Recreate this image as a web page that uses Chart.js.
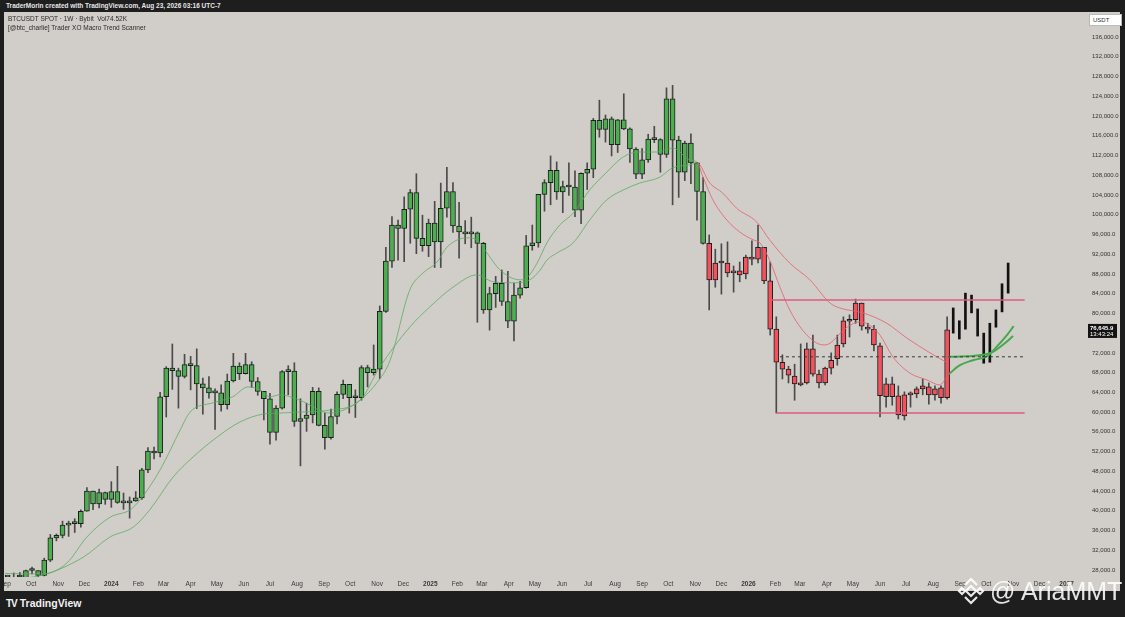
<!DOCTYPE html>
<html>
<head>
<meta charset="utf-8">
<script src="https://cdn.jsdelivr.net/npm/chart.js@4.4.1/dist/chart.umd.min.js"></script>
<style>
  html, body { margin: 0; padding: 0; width: 1125px; height: 617px; overflow: hidden; background: #1e1e1e; font-family: "Liberation Sans", Arial, sans-serif; }
  #top { position: absolute; left: 6px; top: 1px; color: #e6e6e6; font-size: 6.5px; font-weight: bold; line-height: 10px; }
  #pane { position: absolute; left: 4px; top: 12px; width: 1116px; height: 579px; background: #d1cec9; }
  #legend { position: absolute; left: 8px; top: 14px; color: #2a2a2a; font-size: 6.5px; line-height: 9px; }
  #unit { position: absolute; left: 1089px; top: 14px; width: 28px; height: 10px; background: #fff; border: 1px solid #bbb; font-size: 6px; line-height: 10px; color: #333; padding-left: 3px; box-sizing: content-box; }
  #tv { position: absolute; left: 6px; top: 596px; color: #f2f2f2; font-size: 10.5px; font-weight: bold; line-height: 14px; }
  #tv b { font-size: 10px; margin-right: 3px; letter-spacing: -1px; }
  #wm { position: absolute; left: 956px; top: 576px; color: rgba(255,255,255,0.88); font-size: 25px; line-height: 30px; white-space: nowrap; }
  #wm svg { vertical-align: -6px; margin-right: 4px; }
</style>
</head>
<body>
<div id="top">TraderMorin created with TradingView.com, Aug 23, 2026 03:16 UTC-7</div>
<div id="pane"><canvas id="btc" width="1116" height="579"></canvas></div>
<div id="legend">BTCUSDT SPOT · 1W · Bybit&nbsp; Vol74.52K<br>[@btc_charlie] Trader XO Macro Trend Scanner</div>
<div id="unit">USDT</div>
<div id="tv"><b>TV</b>TradingView</div>
<div id="wm"><svg width="30" height="30" viewBox="0 0 30 30"><g fill="none" stroke="rgba(255,255,255,0.9)" stroke-width="2.2"><path d="M15 10 L20 15 L15 20 L10 15 Z"/><path d="M9 9 L15 3 L21 9"/><path d="M9 21 L15 27 L21 21"/><path d="M3 15 L6 12 L9 15 L6 18 Z"/><path d="M21 15 L24 12 L27 15 L24 18 Z"/></g></svg>@ AriaMMT</div>

<script>
// Weekly candles, Monday 2023-09-04 = week 0. Prices in thousands of USDT.
var opens = [25.8,25.8,26.5,26.3,27.9,27.9,26.9,30.0,34.5,35.0, 37.1,37.4,37.4,39.9,44.0,41.4,43.7,
  42.3,43.9,41.7,41.6,42.0,42.6,48.3,52.1,51.7,63.1, 68.9,68.4,67.2,69.6,69.4,65.7,64.9,63.9,63.9,61.5,
  66.3,69.3,67.8,69.6,66.2,64.2,62.7,55.9,60.8,68.2, 68.3,58.1,58.7,59.4,64.2,57.3,54.8,59.1,63.6,65.6,
  62.9,62.9,69.0,68.0,68.7,80.4,90.6,97.9,97.2,101.1, 104.5,95.2,93.7,
  98.3,94.5,101.3,104.7,97.7,96.5,96.1,96.3,94.2,80.7, 84.0,86.1,82.4,78.4,83.7,85.2,93.7,94.3,104.1,106.5,
  109.0,104.6,105.7,105.6,100.9,108.4,109.2,119.1,117.3,119.4, 114.2,119.2,117.4,113.3,108.2,111.1,115.3,115.2,112.2,123.5,
  115.1,108.6,114.5,110.5,104.7,94.2,86.8,90.2,90.2,88.2, 88.6,88.0,91.4,91.0,93.4,86.6,76.8,70.1,68.7,67.3,
  65.7,65.9,72.8,67.7,65.9,68.9,70.8,73.8,78.5,78.7, 82.1,77.2,76.8,73.4,63.1,65.7,63.3,59.2,63.5,63.7,
  64.7,65.1,63.5,64.9,62.9];
var highs = [26.4,27.4,27.5,28.0,28.6,27.9,30.4,35.2,35.3,37.9, 37.9,38.4,40.2,44.7,44.0,44.4,43.8,
  45.9,49.0,43.6,42.8,43.9,48.6,52.8,52.9,64.0,69.2, 73.8,68.9,71.7,71.3,72.8,66.9,67.2,64.7,65.5,67.7,
  71.9,70.0,71.9,70.2,67.0,64.2,63.8,61.3,68.4,69.4, 70.0,62.7,61.8,65.0,64.9,59.8,60.6,64.1,66.5,65.6,
  64.5,69.4,69.5,73.6,81.5,93.4,99.6,98.9,103.6,105.1, 108.3,99.9,99.1,
  102.7,106.4,109.6,106.5,102.5,98.8,99.5,96.5,94.4,85.3, 87.5,88.8,88.5,86.1,86.5,95.8,97.9,104.1,107.1,111.9,
  110.7,106.8,110.5,108.9,108.5,110.5,119.5,123.2,120.2,119.8, 119.3,124.5,117.6,113.6,113.4,116.3,117.9,115.4,125.7,126.2,
  115.9,114.9,116.4,110.6,107.5,95.9,93.0,94.1,94.5,89.6, 90.4,91.8,94.7,97.9,93.4,90.4,79.3,71.6,69.3,69.7,
  73.8,74.0,75.6,68.5,69.1,72.0,75.6,79.3,79.7,82.9, 82.1,78.0,77.6,74.0,66.9,67.1,65.3,64.1,64.1,65.1,
  66.7,65.9,65.3,65.3,79.3];
var lows = [24.9,24.9,26.0,26.0,27.2,26.5,26.8,29.7,33.9,34.5, 34.8,35.6,36.7,39.9,40.2,40.6,41.3,
  40.7,41.5,40.3,38.5,41.9,42.3,47.7,50.5,50.9,59.0, 64.6,60.8,66.9,64.5,60.7,59.6,62.8,56.5,60.2,60.6,
  66.1,66.6,67.7,65.0,63.4,58.4,53.5,54.3,60.6,63.5, 57.1,49.1,56.1,57.8,57.2,52.5,54.5,57.6,62.7,59.8,
  58.9,62.4,65.1,67.5,66.8,80.2,89.3,90.8,90.5,94.2, 92.1,92.6,91.5,
  89.3,89.3,99.5,96.4,91.2,94.1,93.3,78.2,80.0,76.6, 81.2,81.6,77.1,74.4,83.1,85.1,92.8,93.4,100.7,102.0,
  103.1,100.4,103.9,99.6,98.2,105.1,107.5,115.7,114.7,111.9, 112.6,117.2,110.6,107.3,107.3,110.6,114.6,108.6,111.6,102.0,
  103.5,106.9,106.3,98.9,94.0,80.7,85.3,83.9,87.4,84.3, 86.4,87.0,89.8,90.2,86.0,75.6,59.8,66.7,65.9,62.4,
  65.3,65.7,67.3,64.9,65.5,67.7,69.5,73.2,75.2,78.0, 76.6,76.0,72.4,59.0,61.0,61.4,58.6,58.4,61.0,62.9,
  63.5,61.6,62.4,61.8,62.6];
var closes = [25.8,26.5,26.3,27.9,27.9,26.9,30.0,34.5,35.0,37.1, 37.4,37.4,39.9,44.0,41.4,43.7,42.3,
  43.9,41.7,41.6,42.0,42.6,48.3,52.1,51.7,63.1,68.9, 68.4,67.2,69.6,69.4,65.7,64.9,63.9,63.9,61.5,66.3,
  69.3,67.8,69.6,66.2,64.2,62.7,55.9,60.8,68.2,68.3, 58.1,58.7,59.4,64.2,57.3,54.8,59.1,63.6,65.6,62.9,
  62.9,69.0,68.0,68.7,80.4,90.6,97.9,97.2,101.1,104.5, 95.2,93.7,98.3,
  94.5,101.3,104.7,97.7,96.5,96.1,96.3,94.2,80.7,84.0, 86.1,82.4,78.4,83.7,85.2,93.7,94.3,104.1,106.5,109.0,
  104.6,105.7,105.6,100.9,108.4,109.2,119.1,117.3,119.4,114.2, 119.2,117.4,113.3,108.2,111.1,115.3,115.2,112.2,123.5,115.1,
  108.6,114.5,110.5,104.7,94.2,86.8,90.2,90.3,88.2,88.4, 87.8,91.4,91.0,93.4,86.6,76.8,70.1,68.7,67.5,65.7,
  65.5,72.8,67.7,65.9,68.9,70.5,73.6,78.5,78.4,82.1, 77.4,76.8,73.6,63.3,65.7,63.1,59.4,63.5,63.7,64.7,
  65.3,63.5,64.7,62.9,76.6459];
var redFromWeek = 115;   // scanner paints candles red from here on

// Trend scanner lines: fast and slow
var fastWeeks = [-1,5.8,9.7,13.0,16.8,20.1,21.7,25.0,28.3,29.9,33.7,36.9,39.4,41.4,43.0,44.6,47.9,52.8,56.6,60.5,
  62.7,65.9,68.1,70.4,72.0,75.3,76.9,78.6,80.7,84.0,85.1,86.8,88.4,90.5,92.7,95.4,98.2,100.9,103.6,106.4,
  109.0,111.8,113.0,114.0,115.6,117.9,120.0,122.2,123.3,124.9,126.6,128.2,130.3,132.6,134.0,137.6,139.7,141.3,143.0,145.1,
  147.9,150.7,152.8,154.0];
var fastVals = [27.3,27.2,29.4,34.7,38.7,40.2,42.2,48.3,56.4,60.0,61.9,63.1,65.1,64.5,63.1,63.5,62.4,59.8,61.4,65.9,
  70.5,84.7,88.2,90.4,93.4,95.3,94.9,92.2,88.8,86.8,87.2,90.2,94.3,97.9,100.3,105.0,108.6,111.7,112.7,112.7,
  113.5,111.1,110.6,107.6,103.0,98.9,96.5,94.9,94.3,90.8,85.3,80.7,76.6,74.0,73.6,77.2,78.3,77.6,75.6,71.2,
  67.9,66.5,65.5,67.2];
var slowWeeks = [-1,5.8,12.4,16.8,20.6,23.3,27.1,30.4,34.3,38.1,41.9,44.6,47.9,52.8,57.8,61.0,65.9,69.2,73.0,76.9,
  79.6,82.8,85.6,87.3,88.4,90.0,92.7,95.4,98.2,100.9,103.6,106.9,109.0,111.8,113.0,115.1,117.2,119.5,122.8,124.9,
  128.2,131.5,134.8,136.4,140.2,144.1,147.4,151.2,153.3,154.0];
var slowVals = [26.0,27.0,30.6,34.7,36.7,40.2,46.8,50.9,54.9,58.0,59.6,59.8,60.0,60.4,62.4,69.1,77.2,81.3,85.3,87.8,
  86.4,86.2,86.8,88.8,90.8,92.2,94.3,98.9,103.0,105.0,106.4,107.6,109.5,110.1,110.5,106.4,104.4,101.3,98.5,94.9,
  90.2,86.8,82.1,81.1,80.1,78.0,75.0,72.0,70.5,70.1];
var lineFlipWeek = 112.9;

// Drawn projection: future weekly ranges and two green paths
var projWeeks = [155,156,157,158,159,160,161,162,163,164];
var projLows  = [76.0,74.8,76.8,80.1,75.4,69.9,70.1,77.2,80.3,84.1];
var projHighs = [81.1,78.5,84.1,83.7,80.9,76.0,78.0,80.7,86.0,90.2];
var pathAWeeks = [154.3,156.1,158.2,160.5,162.1,163.8,164.9];
var pathAVals  = [67.7,69.5,70.5,71.3,73.2,75.6,77.4];
var pathBWeeks = [154.3,157.2,159.9,161.5,163.1,164.8];
var pathBVals  = [71.2,71.3,71.6,72.2,73.6,75.4];

// Range box and mid line
var rangeTop = 82.7, rangeBottom = 59.8, rangeMid = 71.2;
var rangeStartTop = 125.2, rangeStartBottom = 126.0, rangeStartMid = 126.6, rangeEnd = 166.7;

var lastPrice = 76645.9, lastTimer = "13:43:24";

// Axis labels
var monthLabels = ['Sep','Oct','Nov','Dec','2024','Feb','Mar','Apr','May','Jun','Jul','Aug','Sep','Oct','Nov','Dec',
  '2025','Feb','Mar','Apr','May','Jun','Jul','Aug','Sep','Oct','Nov','Dec',
  '2026','Feb','Mar','Apr','May','Jun','Jul','Aug','Sep','Oct','Nov','Dec','2027'];
var priceTicks = [28,32,36,40,44,48,52,56,60,64,68,72,76,80,84,88,92,96,100,104,108,112,116,120,124,128,132,136];

var week0 = Date.UTC(2023, 8, 4);
function weekOf(y, m, d) { return (Date.UTC(y, m, d) - week0) / 604800000; }
var monthPos = monthLabels.map(function(l, i) { return weekOf(2023, 8 + i, 1); });

var GREEN = '#4cae50', RED = '#f2515d', EDGE = '#1d1d1d', WICK = '#4a4a4a';
var lineGreen = 'rgba(86,170,92,0.75)', lineRed = 'rgba(232,92,110,0.8)';

var wickData = [], bodyData = [], bodyColors = [];
for (var i = 0; i < opens.length; i++) {
  wickData.push({ x: i, y: [lows[i], highs[i]] });
  bodyData.push({ x: i, y: [Math.min(opens[i], closes[i]), Math.max(opens[i], closes[i])] });
  bodyColors.push(i >= redFromWeek ? RED : GREEN);
}
function pairs(ws, vs) { return ws.map(function(w, i) { return { x: w, y: vs[i] }; }); }
var projData = projWeeks.map(function(w, i) { return { x: w, y: [projLows[i], projHighs[i]] }; });

var flipColor = { borderColor: function(c) { return c.p0.parsed.x >= lineFlipWeek ? lineRed : lineGreen; } };

var priceLabel = {
  id: 'priceLabel',
  afterDraw: function(chart) {
    var ctx = chart.ctx, y = chart.scales.y.getPixelForValue(lastPrice / 1000), x = chart.chartArea.right + 3;
    ctx.save();
    ctx.fillStyle = '#131313';
    ctx.fillRect(x, y - 6, 29, 14);
    ctx.fillStyle = '#ffffff';
    ctx.font = 'bold 6px "Liberation Sans", Arial';
    ctx.textBaseline = 'middle';
    ctx.fillText(lastPrice.toLocaleString('en-US', { minimumFractionDigits: 1 }), x + 2, y - 2);
    ctx.font = '6px "Liberation Sans", Arial';
    ctx.fillText(lastTimer, x + 2, y + 4.5);
    ctx.restore();
  }
};

new Chart(document.getElementById('btc').getContext('2d'), {
  type: 'bar',
  data: {
    datasets: [
      { type: 'line', data: pairs(fastWeeks, fastVals), borderWidth: 1, pointRadius: 0, cubicInterpolationMode: 'monotone', segment: flipColor, borderColor: lineGreen, order: 1 },
      { type: 'line', data: pairs(slowWeeks, slowVals), borderWidth: 1, pointRadius: 0, cubicInterpolationMode: 'monotone', segment: flipColor, borderColor: lineGreen, order: 1 },
      { type: 'line', data: [{ x: rangeStartTop, y: rangeTop }, { x: rangeEnd, y: rangeTop }], borderColor: '#de5a7c', borderWidth: 1.5, pointRadius: 0, order: 1 },
      { type: 'line', data: [{ x: rangeStartBottom, y: rangeBottom }, { x: rangeEnd, y: rangeBottom }], borderColor: '#de5a7c', borderWidth: 1.5, pointRadius: 0, order: 1 },
      { type: 'line', data: [{ x: rangeStartMid, y: rangeMid }, { x: rangeEnd, y: rangeMid }], borderColor: '#3a3a3a', borderWidth: 1, borderDash: [3, 3], pointRadius: 0, order: 1 },
      { type: 'line', data: pairs(pathAWeeks, pathAVals), borderColor: '#45a84c', borderWidth: 2, pointRadius: 0, tension: 0.4, order: 1 },
      { type: 'line', data: pairs(pathBWeeks, pathBVals), borderColor: '#45a84c', borderWidth: 2, pointRadius: 0, tension: 0.4, order: 1 },
      { data: projData, backgroundColor: '#111111', barThickness: 2, grouped: false, order: 2 },
      { data: bodyData, backgroundColor: bodyColors, borderColor: EDGE, borderWidth: 1, borderSkipped: false, barThickness: 5, minBarLength: 2, grouped: false, order: 2 },
      { data: wickData, backgroundColor: WICK, barThickness: 1, grouped: false, order: 3 }
    ]
  },
  options: {
    responsive: false,
    animation: false,
    events: [],
    layout: { padding: { left: 1, right: 0, top: 0, bottom: 0 } },
    plugins: { legend: { display: false }, tooltip: { enabled: false } },
    scales: {
      x: {
        type: 'linear', min: -0.43, max: 176.6, offset: false,
        grid: { display: false, drawTicks: false, offset: false }, border: { display: false },
        afterBuildTicks: function(s) { s.ticks = monthPos.map(function(v) { return { value: v }; }); },
        afterFit: function(s) { s.height = 14; s.paddingLeft = 0; s.paddingRight = 0; },
        ticks: {
          autoSkip: false, maxRotation: 0, padding: 3, color: '#3a3a3a',
          font: function(c) { var l = monthLabels[c.index] || ''; return { size: 6.5, family: '"Liberation Sans", Arial', weight: /^\d/.test(l) ? 'bold' : 'normal' }; },
          callback: function(v, i) { return monthLabels[i]; }
        }
      },
      y: {
        position: 'right', min: 26.58, max: 141.07,
        grid: { display: false, drawTicks: false }, border: { display: false },
        afterBuildTicks: function(s) { s.ticks = priceTicks.map(function(v) { return { value: v }; }); },
        afterFit: function(s) { s.width = 35; s.paddingTop = 0; s.paddingBottom = 0; },
        ticks: {
          padding: 7, color: '#333333', font: { size: 6, family: '"Liberation Sans", Arial' },
          callback: function(v) { return (v * 1000).toLocaleString('en-US') + '.0'; }
        }
      }
    }
  },
  plugins: [priceLabel]
});
</script>
</body>
</html>
